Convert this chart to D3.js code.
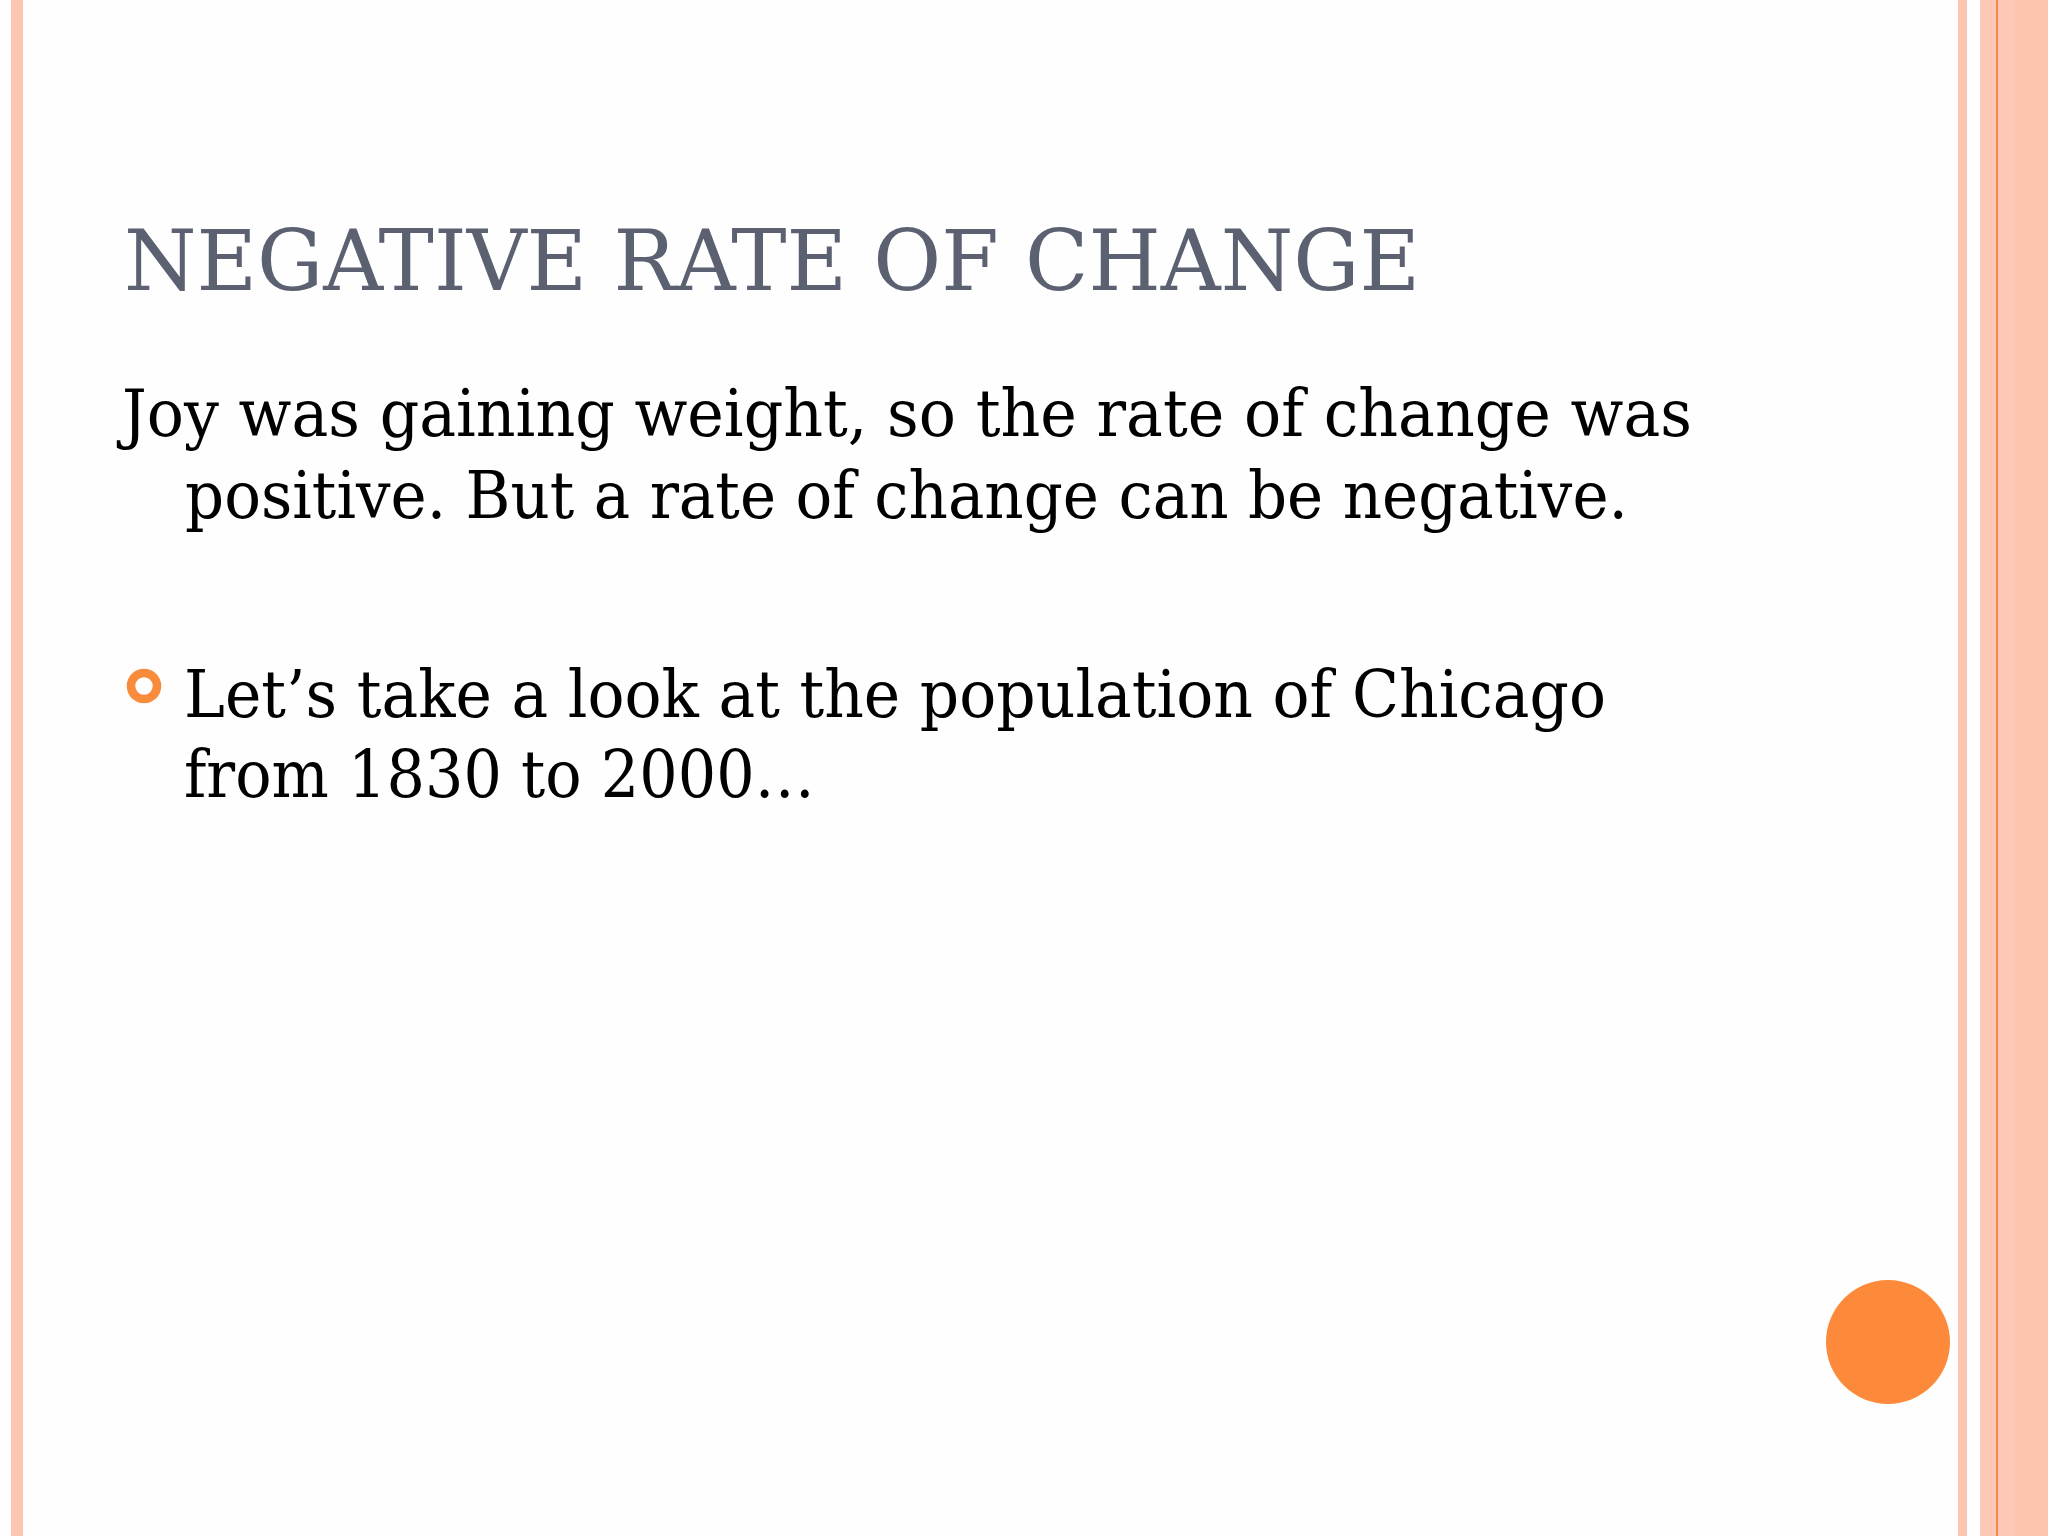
<!DOCTYPE html>
<html>
<head>
<meta charset="utf-8">
<script src="https://cdn.jsdelivr.net/npm/d3@7"></script>
<style>
html,body{margin:0;padding:0;background:#fdfefd;}
svg{display:block;}
</style>
</head>
<body>
<script>
const titleText = "NEGATIVE RATE OF CHANGE";
const introLines = [
  "Joy was gaining weight, so the rate of change was",
  "positive. But a rate of change can be negative."
];
const bulletLines = [
  "Let\u2019s take a look at the population of Chicago",
  "from 1830 to 2000\u2026"
];

const W = 2048, H = 1536;
const svg = d3.select("body").append("svg").attr("width", W).attr("height", H);
svg.append("rect").attr("width", W).attr("height", H).attr("fill", "#fdfefd");

// border stripes
const stripes = [
  {x: 11, w: 12, c: "#fcc6b2"},
  {x: 1958, w: 9, c: "#fdc6b3"},
  {x: 1980, w: 16, c: "#fdc8b5"},
  {x: 1996, w: 2, c: "#f5894a"},
  {x: 1998, w: 17, c: "#fdc8b5"},
  {x: 2015, w: 33, c: "#fdc5b0"}
];
svg.selectAll("rect.stripe").data(stripes).join("rect")
  .attr("class", "stripe")
  .attr("x", d => d.x).attr("y", 0).attr("width", d => d.w).attr("height", H)
  .attr("fill", d => d.c);

const font = "'DejaVu Serif', 'Liberation Serif', serif";

// title
svg.append("text")
  .attr("x", 124).attr("y", 290)
  .attr("font-family", font).attr("font-size", 85)
  .attr("fill", "#5c6171")
  .attr("textLength", 1296).attr("lengthAdjust", "spacingAndGlyphs")
  .text(titleText);

// intro paragraph
const introX = [122, 185];
const introW = [1570, 1443];
const introY = [436, 518];
svg.selectAll("text.intro").data(introLines).join("text")
  .attr("class", "intro")
  .attr("x", (d, i) => introX[i]).attr("y", (d, i) => introY[i])
  .attr("font-family", font).attr("font-size", 66).attr("fill", "#000")
  .attr("textLength", (d, i) => introW[i]).attr("lengthAdjust", "spacingAndGlyphs")
  .text(d => d);

// bullet
svg.append("circle").attr("cx", 144).attr("cy", 686).attr("r", 13)
  .attr("fill", "none").attr("stroke", "#f98b3c").attr("stroke-width", 8.5);
const bulletY = [717, 797];
const bulletW = [1422, 631];
svg.selectAll("text.bullet").data(bulletLines).join("text")
  .attr("class", "bullet")
  .attr("x", 184).attr("y", (d, i) => bulletY[i])
  .attr("font-family", font).attr("font-size", 66).attr("fill", "#000")
  .attr("textLength", (d, i) => bulletW[i]).attr("lengthAdjust", "spacingAndGlyphs")
  .text(d => d);

// decorative orange circle
svg.append("circle").attr("cx", 1888).attr("cy", 1342).attr("r", 62).attr("fill", "#fc8a3a");
</script>
</body>
</html>
